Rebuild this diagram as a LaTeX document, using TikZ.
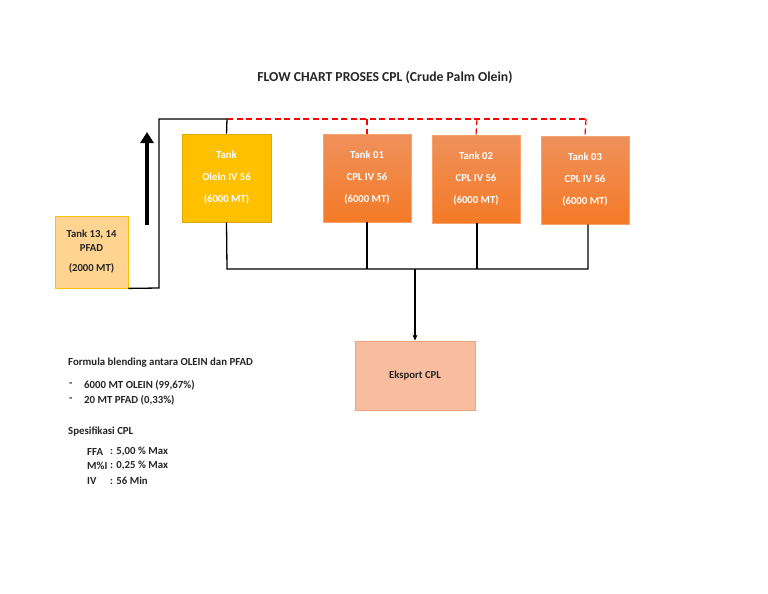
\documentclass[tikz,border=0pt]{standalone}
\usepackage{fontspec}
\setmainfont{Carlito}
\usetikzlibrary{arrows.meta}
\definecolor{olein}{HTML}{FFC000}
\definecolor{oleinb}{HTML}{E0A800}
\definecolor{orgtop}{HTML}{EF915C}
\definecolor{orgbot}{HTML}{F47A26}
\definecolor{orgb}{HTML}{F5A36A}
\definecolor{pfad}{HTML}{FFD490}
\definecolor{ekspor}{HTML}{F8BC9E}
\definecolor{eksporb}{HTML}{F2A47C}
\definecolor{txt}{HTML}{262626}
\begin{document}
\begin{tikzpicture}[x=1pt,y=-1pt,
  tankbox/.style={draw=orgb,line width=0.8pt,top color=orgtop,bottom color=orgbot,minimum width=88pt,minimum height=88pt,text=white,font=\fontsize{10.7}{22}\selectfont\bfseries,align=center,inner sep=0pt},
  conn/.style={draw=black,line width=1.3pt},
  reddash/.style={draw=red,line width=1.2pt,dash pattern=on 6pt off 3.5pt},
  body/.style={font=\fontsize{10.8}{12}\selectfont\bfseries,text=txt,anchor=west,inner sep=0pt}]
\useasboundingbox (0,0) rectangle (768,594);
\node[font=\fontsize{13.7}{15}\selectfont\bfseries,text=txt] (title) at (385,77) {FLOW CHART PROSES CPL (Crude Palm Olein)};
% tanks
\node[draw=oleinb,line width=0.8pt,fill=olein,minimum width=89pt,minimum height=88pt,text=white,font=\fontsize{10.7}{22}\selectfont\bfseries,align=center,inner sep=0pt] (olein) at (226.5,178) {Tank\\Olein IV 56\\(6000 MT)};
\node[tankbox] (t1) at (367,178) {Tank 01\\CPL IV 56\\(6000 MT)};
\node[tankbox] (t2) at (476,179) {Tank 02\\CPL IV 56\\(6000 MT)};
\node[tankbox] (t3) at (585,180) {Tank 03\\CPL IV 56\\(6000 MT)};
\node[draw=olein,line width=0.8pt,fill=pfad,minimum width=73pt,minimum height=72pt,text=txt,font=\fontsize{10.7}{14}\selectfont\bfseries,align=center,inner sep=0pt] (pfad) at (91.5,252) {Tank 13, 14\\PFAD\\[6pt](2000 MT)};
\node[draw=eksporb,line width=0.8pt,fill=ekspor,minimum width=120pt,minimum height=69pt,text=txt,font=\fontsize{10.7}{12}\selectfont\bfseries,inner sep=0pt] (eks) at (415,375.5) {Eksport CPL};
% PFAD line to olein
\coordinate (c1) at (159,288);
\coordinate (c2) at (159,119);
\coordinate (c3) at (227,119);
\draw[conn] (pfad.south east) -- (c1) -- (c2) -- (c3) -- (olein.north);
% thick arrow
\coordinate (a1) at (147,225);
\coordinate (a2) at (147,132);
\draw[line width=4.5pt,-{Triangle[length=11pt,width=13pt]}] (a1) -- (a2);
% red dashed
\coordinate (r1) at (367,119);
\coordinate (r2) at (477,119);
\coordinate (r3) at (586,119);
\draw[reddash] (c3) -- (r3);
\draw[reddash] (r1) -- (t1.north);
\draw[reddash] (r2) -- (t2.north);
\draw[reddash] (r3) -- (t3.north);
% bottom collector
\coordinate (b0) at (227,269);
\coordinate (b1) at (367,269);
\coordinate (b2) at (477,269);
\coordinate (b3) at (588,269);
\coordinate (bm) at (415,269);
\draw[conn] (olein.south) -- (b0) -- (b3) -- (t3.south -| b3);
\draw[conn] (t1.south) -- (b1);
\draw[conn] (t2.south -| b2) -- (b2);
\draw[conn,-{Stealth[length=6pt,width=5pt]}] (bm) -- (eks.north);
% texts
\node[body] (f1) at (68,363) {Formula blending antara OLEIN dan PFAD};
\node[body] (d1) at (69,385) {-};
\node[body] (f2) at (84,385) {6000 MT OLEIN (99,67\%)};
\node[body] (d2) at (69,400) {-};
\node[body] (f3) at (84,400) {20 MT PFAD (0,33\%)};
\node[body] (s0) at (68,432) {Spesifikasi CPL};
\node[body] (s1) at (87,452) {FFA};
\node[body] (s1v) at (110,452) {: 5,00 \% Max};
\node[body] (s2) at (87,466) {M\%I};
\node[body] (s2v) at (110,466) {: 0,25 \% Max};
\node[body] (s3) at (87,481) {IV};
\node[body] (s3v) at (110,481) {: 56 Min};
\end{tikzpicture}
\end{document}
